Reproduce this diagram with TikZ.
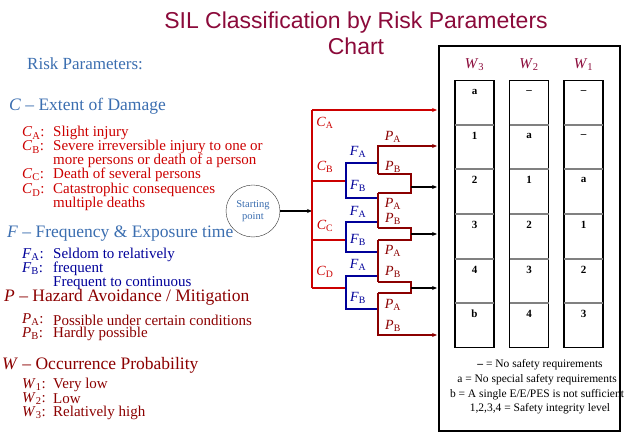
\documentclass[tikz,border=0pt]{standalone}
\usepackage{fontspec}
\setmainfont{Liberation Serif}
\newfontfamily\titlefont{Liberation Sans}
\usetikzlibrary{arrows.meta,shapes.geometric}
\definecolor{ttl}{HTML}{8B0A3A}
\definecolor{hblue}{HTML}{3B6EB0}
\definecolor{cred}{HTML}{CC0000}
\definecolor{fnavy}{HTML}{000099}
\definecolor{pdark}{HTML}{8B0000}
\newcommand{\sbl}[2]{\textit{#1}\textsubscript{#2}}
\begin{document}
\begin{tikzpicture}[x=1pt,y=-1pt,
  txt/.style={anchor=west,inner sep=0pt,font=\fontsize{15}{15}\selectfont},
  head/.style={anchor=west,inner sep=0pt,font=\fontsize{17.5}{17.5}\selectfont},
  lab/.style={inner sep=0pt,font=\fontsize{14}{14}\selectfont},
  rl/.style={draw=cred,line width=1.6pt},
  bl/.style={draw=fnavy,line width=1.6pt},
  pl/.style={draw=pdark,line width=1.6pt},
  arr/.style={-{Stealth[length=5pt,width=4pt]}},
  cell/.style={font=\fontsize{11}{11}\selectfont\bfseries}]
\useasboundingbox (0,0) rectangle (641,441);
% title
\node[font=\titlefont\fontsize{23}{26}\selectfont,text=ttl,align=center] (title) at (356,33) {SIL Classification by Risk Parameters\\Chart};
\node[anchor=west,inner sep=0pt,font=\fontsize{17}{17}\selectfont,text=hblue] (rp) at (27,64) {Risk Parameters:};
% C
\node[head,text=hblue] (ch) at (9,106) {\textit{C} -- Extent of Damage};
\begin{scope}[every node/.append style={txt,text=cred}]
\node (c1l) at (22,133) {\sbl{C}{A}:}; \node (c1) at (53,133) {Slight injury};
\node (c2l) at (22,147) {\sbl{C}{B}:}; \node (c2) at (53,147) {Severe irreversible injury to one or};
\node (c2b) at (53,161) {more persons or death of a person};
\node (c3l) at (22,175) {\sbl{C}{C}:}; \node (c3) at (53,175) {Death of several persons};
\node (c4l) at (22,190) {\sbl{C}{D}:}; \node (c4) at (53,190) {Catastrophic consequences};
\node (c4b) at (53,204) {multiple deaths};
\end{scope}
% F
\node[head,text=hblue] (fh) at (7,234) {\textit{F} -- Frequency \& Exposure time};
\begin{scope}[every node/.append style={txt,text=fnavy}]
\node (f1l) at (22,255) {\sbl{F}{A}:}; \node (f1) at (53,255) {Seldom to relatively};
\node (f2l) at (22,269) {\sbl{F}{B}:}; \node (f2) at (53,269) {frequent};
\node (f2b) at (53,283) {Frequent to continuous};
\end{scope}
% P
\node[head,text=pdark] (ph) at (4,297) {\textit{P} -- Hazard Avoidance / Mitigation};
\begin{scope}[every node/.append style={txt,text=pdark}]
\node (p1l) at (22,320) {\sbl{P}{A}:}; \node (p1) at (53,320) {Possible under certain conditions};
\node (p2l) at (22,334) {\sbl{P}{B}:}; \node (p2) at (53,334) {Hardly possible};
\end{scope}
% W
\node[head,text=pdark] (wh) at (2,365) {\textit{W} -- Occurrence Probability};
\begin{scope}[every node/.append style={txt,text=pdark}]
\node (w1l) at (22,385) {\sbl{W}{1}:}; \node (w1) at (53,385) {Very low};
\node (w2l) at (22,399) {\sbl{W}{2}:}; \node (w2) at (53,399) {Low};
\node (w3l) at (22,413) {\sbl{W}{3}:}; \node (w3) at (53,413) {Relatively high};
\end{scope}
% start
\node[draw=black!80,ellipse,minimum width=54pt,minimum height=52pt,inner sep=0pt,align=center,text=hblue,font=\fontsize{10.5}{12}\selectfont,fill=white] (start) at (253,211) {Starting\\point};
% table box
\node[draw,line width=1.6pt,minimum width=181pt,minimum height=385pt,anchor=north west,inner sep=0pt] (box) at (438,45) {};
% tree coordinates
\coordinate (m) at (312,211);
\coordinate (ctop) at (312,110); \coordinate (cbot) at (312,288);
\coordinate (cb) at (312,181); \coordinate (cc) at (312,240);
\coordinate (bB) at (346,181); \coordinate (bC) at (346,240); \coordinate (bD) at (346,288);
\draw[arr,line width=1.6pt] (start.east) -- (m);
\draw[rl] (ctop) -- (cbot);
\draw[rl,arr] (ctop) -- (437,110);
\draw[rl] (cb) -- (bB); \draw[rl] (cc) -- (bC); \draw[rl] (cbot) -- (bD);
% F branches
\draw[bl] (378,163) -- (346,163) -- (346,198) -- (378,198);
\draw[bl] (378,222) -- (346,222) -- (346,252) -- (378,252);
\draw[bl] (378,276) -- (346,276) -- (346,309) -- (378,309);
% P branches
\draw[pl,arr] (378,174) -- (378,146) -- (437,146);
\draw[pl] (378,193) -- (378,228); \draw[pl] (378,240) -- (378,282);
\draw[pl,arr] (378,293) -- (378,335) -- (437,335);
% merges
\draw[pl] (378,174) -- (411,174) -- (411,193) -- (378,193);
\draw[pl] (378,228) -- (411,228) -- (411,240) -- (378,240);
\draw[pl] (378,282) -- (411,282) -- (411,293) -- (378,293);
\coordinate (k1) at (411,187); \coordinate (k2) at (411,234); \coordinate (k3) at (411,288);
\draw[arr,line width=1.6pt] (k1) -- (437,187);
\draw[arr,line width=1.6pt] (k2) -- (437,234);
\draw[arr,line width=1.6pt] (k3) -- (437,288);
% labels
\begin{scope}[every node/.append style={lab}]
\node[text=cred] (lca) at (325,123) {\sbl{C}{A}};
\node[text=cred] (lcb) at (325,167) {\sbl{C}{B}};
\node[text=cred] (lcc) at (325,226) {\sbl{C}{C}};
\node[text=cred] (lcd) at (325,272) {\sbl{C}{D}};
\node[text=fnavy] (fa1) at (358,152) {\sbl{F}{A}};
\node[text=fnavy] (fb1) at (358,186) {\sbl{F}{B}};
\node[text=fnavy] (fa2) at (358,212) {\sbl{F}{A}};
\node[text=fnavy] (fb2) at (358,240) {\sbl{F}{B}};
\node[text=fnavy] (fa3) at (358,265) {\sbl{F}{A}};
\node[text=fnavy] (fb3) at (358,298) {\sbl{F}{B}};
\node[text=pdark] (pa1) at (393,137) {\sbl{P}{A}};
\node[text=pdark] (pb1) at (393,167) {\sbl{P}{B}};
\node[text=pdark] (pa2) at (393,204) {\sbl{P}{A}};
\node[text=pdark] (pb2) at (393,219) {\sbl{P}{B}};
\node[text=pdark] (pa3) at (393,251) {\sbl{P}{A}};
\node[text=pdark] (pb3) at (393,272) {\sbl{P}{B}};
\node[text=pdark] (pa4) at (393,305) {\sbl{P}{A}};
\node[text=pdark] (pb4) at (393,326) {\sbl{P}{B}};
\end{scope}
% columns
\foreach \cx/\w/\a/\b/\c/\d/\e/\f in {474.5/3/a/1/2/3/4/b, 529/2/--/a/1/2/3/4, 583.5/1/--/--/a/1/2/3}{
  \node[draw,line width=1.3pt,minimum width=39pt,minimum height=267pt,inner sep=0pt,anchor=north] (col\w) at (\cx,80) {};
  \node[lab,text=ttl,font=\fontsize{15}{15}\selectfont] (hd\w) at (\cx,65) {\sbl{W}{\w}};
  \foreach \yy in {125,169,214,259,303}{\draw[gray,line width=1.3pt] (\cx-19.5,\yy) -- (\cx+19.5,\yy);}
  \node[cell] (e1\w) at (\cx,92) {\a};
  \node[cell] (e2\w) at (\cx,136) {\b};
  \node[cell] (e3\w) at (\cx,180) {\c};
  \node[cell] (e4\w) at (\cx,225) {\d};
  \node[cell] (e5\w) at (\cx,270) {\e};
  \node[cell] (e6\w) at (\cx,314) {\f};
}
\begin{scope}[every node/.append style={inner sep=0pt,font=\fontsize{11.5}{12}\selectfont}]
\node (lg1) at (540,365) {\textbf{--} = No safety requirements};
\node (lg2) at (537,380) {a = No special safety requirements};
\node (lg3) at (537,395) {b = A single E/E/PES is not sufficient};
\node (lg4) at (540,409) {1,2,3,4 = Safety integrity level};
\end{scope}
\end{tikzpicture}
\end{document}
